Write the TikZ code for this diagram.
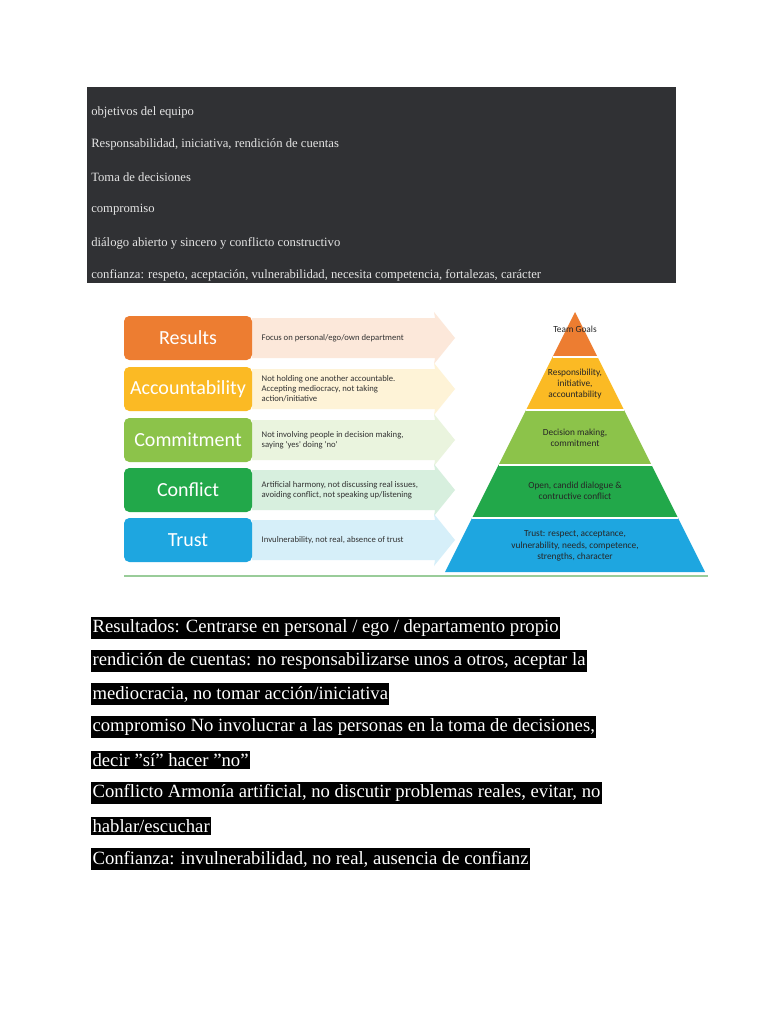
\documentclass[tikz,border=0pt]{standalone}
\usepackage{fontspec}
\setmainfont{Liberation Serif}
\newfontfamily\carlfont{Carlito}
\begin{document}
\begin{tikzpicture}[x=0.75pt,y=-0.75pt,
  topt/.style={anchor=west,text=white!90!black,font=\fontsize{9.5}{11}\selectfont,inner sep=0pt},
  bot/.style={anchor=west,fill=black,text=white,font=\fontsize{14}{16}\selectfont,inner xsep=1pt,inner ysep=2pt},
  lbl/.style={rounded corners=4pt,minimum width=96pt,minimum height=33pt,text=white,font=\carlfont\fontsize{15}{17}\selectfont},
  arrt/.style={anchor=west,font=\carlfont\fontsize{6.5}{7.5}\selectfont,align=left,text=black!80},
  pyt/.style={font=\carlfont\fontsize{7}{8.5}\selectfont,align=center,text=black!85}]
\useasboundingbox (0,0) rectangle (768,1024);
\fill[white] (0,0) rectangle (768,1024);
\definecolor{dbox}{RGB}{48,49,52}
\fill[dbox] (87,87) rectangle (676,283);
\node[topt] (t1) at (91,112) {objetivos del equipo};
\node[topt] (t2) at (91,144) {Responsabilidad, iniciativa, rendición de cuentas};
\node[topt] (t3) at (91,177) {Toma de decisiones};
\node[topt] (t4) at (91,210) {compromiso};
\node[topt] (t5) at (91,243) {diálogo abierto y sincero y conflicto constructivo};
\node[topt] (t6) at (91,275) {confianza: respeto, aceptación, vulnerabilidad, necesita competencia, fortalezas, carácter};
% left
\definecolor{cR}{RGB}{237,125,49}
\definecolor{cA}{RGB}{251,186,36}
\definecolor{cC}{RGB}{140,195,74}
\definecolor{cF}{RGB}{34,168,74}
\definecolor{cT}{RGB}{30,166,224}
\foreach \y/\c/\t/\d in {338/cR/Results/{Focus on personal/ego/own department},
  389/cA/Accountability/{Not holding one another accountable.\\Accepting mediocracy, not taking\\action/initiative},
  440/cC/Commitment/{Not involving people in decision making,\\saying 'yes' doing 'no'},
  490/cF/Conflict/{Artificial harmony, not discussing real issues,\\avoiding conflict, not speaking up/listening},
  540/cT/Trust/{Invulnerability, not real, absence of trust}}{
  \fill[\c!18] (252,\y-20) -- (435,\y-20) -- (434,\y-26) -- (455,\y) -- (434,\y+26) -- (435,\y+20) -- (252,\y+20) -- cycle;
  \node[lbl,fill=\c] (l\c) at (188,\y) {\t};
  \node[arrt] (a\c) at (257,\y) {\d};
}
\draw[green!50!black!40,line width=1pt] (124,576) -- (708,576);
% pyramid
\fill[cR] (575,312) -- (597.5,357) -- (552.5,357) -- cycle;
\fill[cA] (552.5,357) -- (597.5,357) -- (624,410) -- (526,410) -- cycle;
\fill[cC] (526,410) -- (624,410) -- (651.5,465) -- (498.5,465) -- cycle;
\fill[cF] (498.5,465) -- (651.5,465) -- (678,518) -- (472,518) -- cycle;
\fill[cT] (472,518) -- (678,518) -- (705,572) -- (445,572) -- cycle;
\foreach \yy/\xa/\xb in {357/552.5/597.5,410/526/624,465/498.5/651.5,518/472/678}
  \draw[white,line width=1pt] (\xa,\yy) -- (\xb,\yy);
\node[pyt] (p1) at (575,329) {Team Goals};
\node[pyt] (p2) at (575,384) {Responsibility,\\initiative,\\accountability};
\node[pyt] (p3) at (575,438) {Decision making,\\commitment};
\node[pyt] (p4) at (575,491) {Open, candid dialogue \&\\contructive conflict};
\node[pyt] (p5) at (575,546) {Trust: respect, acceptance,\\vulnerability, needs, competence,\\strengths, character};
% bottom
\node[bot] (b1) at (91,628) {Resultados: Centrarse en personal / ego / departamento propio};
\node[bot] (b2) at (91,661) {rendición de cuentas: no responsabilizarse unos a otros, aceptar la};
\node[bot] (b3) at (91,694) {mediocracia, no tomar acción/iniciativa};
\node[bot] (b4) at (91,727) {compromiso No involucrar a las personas en la toma de decisiones,};
\node[bot] (b5) at (91,760) {decir "sí" hacer "no"};
\node[bot] (b6) at (91,793) {Conflicto Armonía artificial, no discutir problemas reales, evitar, no};
\node[bot] (b7) at (91,826) {hablar/escuchar};
\node[bot] (b8) at (91,859) {Confianza: invulnerabilidad, no real, ausencia de confianz};
\end{tikzpicture}
\end{document}
